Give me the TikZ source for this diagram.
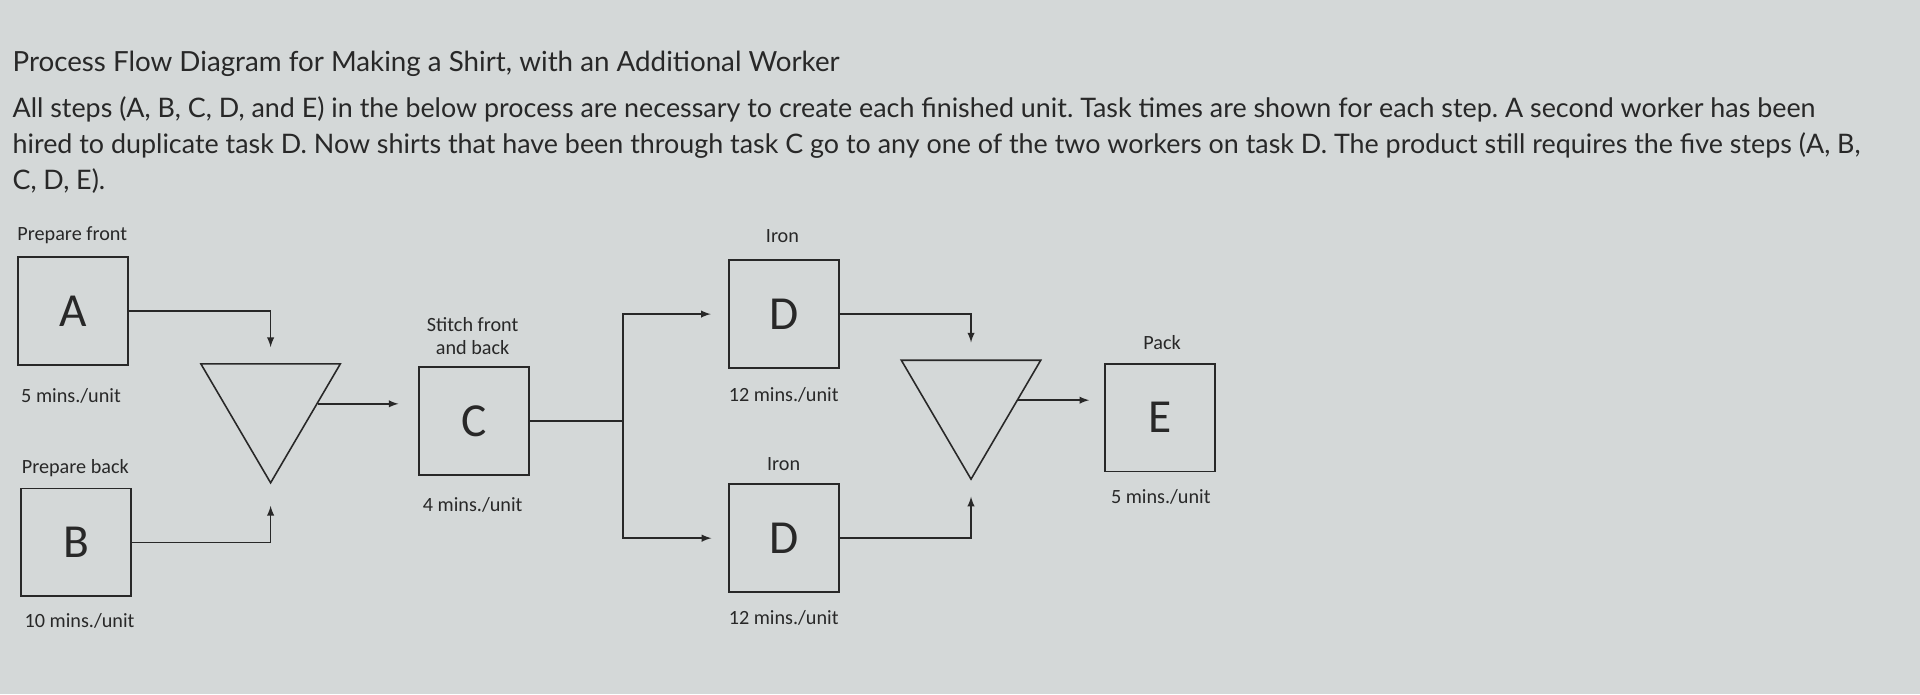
\documentclass[tikz,border=0pt]{standalone}
\usepackage{fontspec}
\setmainfont{Lato}
\newfontfamily\diagfont{Carlito}
\usetikzlibrary{shapes.geometric}
\definecolor{screen}{RGB}{212,216,216}
\definecolor{ink}{RGB}{40,40,40}
\frenchspacing

\begin{document}
\begin{tikzpicture}[x=0.0245cm, y=-0.0245cm, >=latex,
    task/.style={draw=ink, line width=1.1pt, minimum width=2.2cm, minimum height=2.16cm, inner sep=0pt, font=\diagfont\fontsize{27}{27}\selectfont, text=ink},
    merge/.style={draw=ink, line width=0.9pt, isosceles triangle, isosceles triangle stretches, shape border rotate=270, minimum width=2.79cm, minimum height=2.38cm, inner sep=0pt, anchor=apex},
    lbl/.style={font=\diagfont\fontsize{11.5}{13}\selectfont, text=ink, inner sep=0pt, align=center},
    flow/.style={draw=ink, line width=0.9pt},
    para/.style={font=\fontsize{15.3}{20.6}\selectfont, text=ink, anchor=base west, inner sep=0pt}]
			% screen
			\fill[screen] (0,0) rectangle (1568,567);
			\useasboundingbox (0,0) rectangle (1568,567);

			% heading and text
			\node[para, font=\fontsize{15.8}{20.6}\selectfont] (title) at (10,58.5) {Process Flow Diagram for Making a Shirt, with an Additional Worker};
			\node[para] (l1) at (10,96) {All steps (A, B, C, D, and E) in the below process are necessary to create each finished unit. Task times are shown for each step. A second worker has been};
			\node[para] (l2) at (10,125) {hired to duplicate task D. Now shirts that have been through task C go to any one of the two workers on task D. The product still requires the five steps (A, B,};
			\node[para] (l3) at (10,155) {C, D, E).};

			% tasks
			\node[task] (A) at (59.5,254) {A};
			\node[task] (B) at (62,443) {B};
			\node[task] (C) at (387,344) {C};
			\node[task] (D1) at (640,256.5) {D};
			\node[task] (D2) at (640.5,439.5) {D};
			\node[task] (E) at (947,341) {E};

			% labels
			\node[lbl] (tA) at (59,192) {Prepare front};
			\node[lbl] (sA) at (58,323) {5 mins./unit};
			\node[lbl] (tB) at (61.5,382) {Prepare back};
			\node[lbl] (sB) at (65,507) {10 mins./unit};
			\node[lbl] (tC) at (386,274.5) {Stitch front\\and back};
			\node[lbl] (sC) at (386,412) {4 mins./unit};
			\node[lbl] (tD1) at (639,193) {Iron};
			\node[lbl] (sD1) at (640,322.5) {12 mins./unit};
			\node[lbl] (tD2) at (640,379) {Iron};
			\node[lbl] (sD2) at (640,504.5) {12 mins./unit};
			\node[lbl] (tE) at (949,280) {Pack};
			\node[lbl] (sE) at (948,405.5) {5 mins./unit};

			% inventory
			\node[merge] (m1) at (221,396) {};
			\node[merge] (m2) at (793,393) {};

			% flows
			\draw [->][flow, shorten >=0.32cm] (A.east) -| (m1.north);
			\draw [->][flow, shorten >=0.42cm] (B.east) -| (m1.apex);
			\draw [->][flow, shorten >=0.39cm] (m1.east) -- (m1.east -| C.west);
			\coordinate (split) at (509,344);
			\draw [flow] (C.east) -- (split);
			\draw [->][flow, shorten >=0.34cm] (split) |- (D1.west);
			\draw [->][flow, shorten >=0.34cm] (split) |- (D2.west);
			\draw [->][flow, shorten >=0.34cm] (D1.east) -| (m2.north);
			\draw [->][flow, shorten >=0.31cm] (D2.east) -| (m2.apex);
			\draw [->][flow, shorten >=0.29cm] (m2.east) -- (m2.east -| E.west);
\end{tikzpicture}
\end{document}
